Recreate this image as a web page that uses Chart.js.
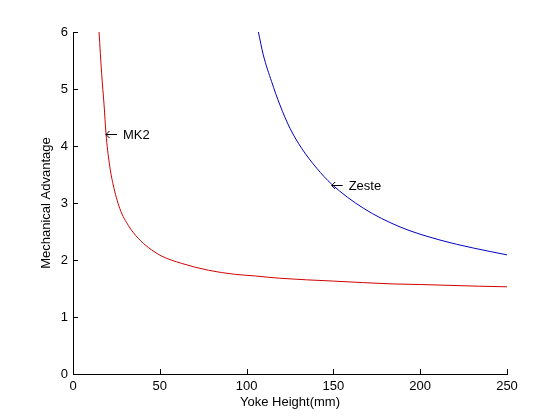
<!DOCTYPE html>
<html lang="en">

<head>
    <meta charset="UTF-8">
    <title>Mechanical Advantage</title>
    <script src="https://cdn.jsdelivr.net/npm/chart.js@4.4.1/dist/chart.umd.min.js"></script>
    <style>
        body { margin: 0; background: #fff; }
        #wrap { width: 560px; height: 420px; }
    </style>
</head>

<body>
    <div id="wrap"><canvas id="chart" width="560" height="420"></canvas></div>

    <script>
        // values
        const mk2X = [15, 16.5, 17.9, 19, 20.9, 23, 27, 32, 37.6, 43.4, 51, 62.6, 78, 93, 105, 119, 150, 184.5, 200, 234, 250];
        const mk2Y = [6.0, 5.27, 4.72, 4.22, 3.7, 3.34, 2.9, 2.6, 2.38, 2.22, 2.07, 1.94, 1.82, 1.75, 1.72, 1.68, 1.63, 1.58, 1.57, 1.54, 1.53];
        const zesteX = [106.8, 109.6, 114.4, 119.2, 125, 131.7, 140.4, 149, 167.2, 188.4, 211.4, 230.6, 250];
        const zesteY = [6.0, 5.6, 5.13, 4.72, 4.31, 3.96, 3.61, 3.33, 2.91, 2.58, 2.35, 2.21, 2.09];
        const xTicks = [0, 50, 100, 150, 200, 250];
        const yTicks = [0, 1, 2, 3, 4, 5, 6];
        const noteText = ['MK2', 'Zeste'];
        const noteX = [19, 149];
        const noteY = [4.21, 3.32];

        const FONT = "'Liberation Sans', Arial, sans-serif";

        function pts(xs, ys) {
            return xs.map((x, i) => ({ x: x, y: ys[i] }));
        }

        // inward ticks + arrow notes, like the matlab figure
        const extras = {
            id: 'extras',
            afterDraw(chart) {
                const ctx = chart.ctx;
                const xs = chart.scales.x;
                const ys = chart.scales.y;
                const area = chart.chartArea;
                ctx.save();
                ctx.strokeStyle = '#000';
                ctx.lineWidth = 1;
                ctx.beginPath();
                xTicks.forEach(v => {
                    const px = Math.round(xs.getPixelForValue(v)) + 0.5;
                    ctx.moveTo(px, area.bottom);
                    ctx.lineTo(px, area.bottom - 5);
                });
                yTicks.forEach(v => {
                    const py = Math.round(ys.getPixelForValue(v)) + 0.5;
                    ctx.moveTo(area.left, py);
                    ctx.lineTo(area.left + 5, py);
                });
                ctx.stroke();

                ctx.fillStyle = '#000';
                ctx.font = '13px ' + FONT;
                ctx.textAlign = 'left';
                ctx.textBaseline = 'middle';
                noteText.forEach((t, i) => {
                    const px = xs.getPixelForValue(noteX[i]);
                    const py = Math.round(ys.getPixelForValue(noteY[i])) + 0.5;
                    ctx.beginPath();
                    ctx.moveTo(px, py);
                    ctx.lineTo(px + 11, py);
                    ctx.moveTo(px + 3.5, py - 3.5);
                    ctx.lineTo(px, py);
                    ctx.lineTo(px + 3.5, py + 3.5);
                    ctx.stroke();
                    ctx.fillText(t, px + 17, py + 1);
                });
                ctx.restore();
            }
        };

        const ctx = document.getElementById('chart').getContext('2d');
        new Chart(ctx, {
            type: 'scatter',
            data: {
                datasets: [{
                    label: 'MK2',
                    data: pts(mk2X, mk2Y),
                    showLine: true,
                    borderColor: '#d00000',
                    borderWidth: 1,
                    pointRadius: 0,
                    cubicInterpolationMode: 'monotone'
                }, {
                    label: 'Zeste',
                    data: pts(zesteX, zesteY),
                    showLine: true,
                    borderColor: '#0000c0',
                    borderWidth: 1,
                    pointRadius: 0,
                    cubicInterpolationMode: 'monotone'
                }]
            },
            options: {
                responsive: false,
                animation: false,
                layout: { padding: { left: 0, right: 53, top: 32, bottom: 0 } },
                plugins: {
                    legend: { display: false },
                    tooltip: { enabled: false }
                },
                scales: {
                    x: {
                        type: 'linear',
                        min: 0,
                        max: 250,
                        afterBuildTicks: s => { s.ticks = xTicks.map(v => ({ value: v })); },
                        afterFit: s => { s.height = 46; },
                        grid: { display: false, drawTicks: false },
                        border: { display: true, color: '#000', width: 1 },
                        ticks: {
                            color: '#000',
                            padding: 5,
                            maxRotation: 0,
                            font: { family: FONT, size: 13 }
                        },
                        title: {
                            display: true,
                            text: 'Yoke Height(mm)',
                            color: '#000',
                            padding: { top: 0, bottom: 10 },
                            font: { family: FONT, size: 13 }
                        }
                    },
                    y: {
                        type: 'linear',
                        min: 0,
                        max: 6,
                        afterBuildTicks: s => { s.ticks = yTicks.map(v => ({ value: v })); },
                        afterFit: s => { s.width = 73; },
                        grid: { display: false, drawTicks: false },
                        border: { display: true, color: '#000', width: 1 },
                        ticks: {
                            color: '#000',
                            padding: 5,
                            font: { family: FONT, size: 13 }
                        },
                        title: {
                            display: true,
                            text: 'Mechanical Advantage',
                            color: '#000',
                            padding: { top: 39, bottom: 0 },
                            font: { family: FONT, size: 13 }
                        }
                    }
                }
            },
            plugins: [extras]
        });
    </script>

</body>

</html>
